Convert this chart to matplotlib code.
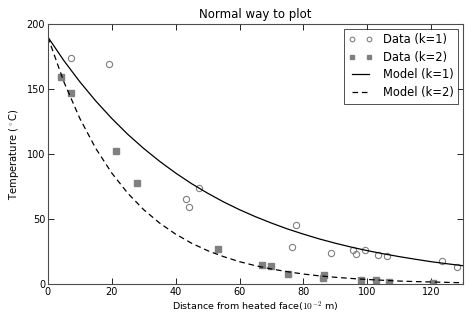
import matplotlib
matplotlib.use('Agg')
import matplotlib.pyplot as plt

x_k1 = [7.1, 19.1, 43.2, 44.2, 47.3, 76.3, 77.8, 88.6, 95.5, 96.6, 99.3, 103.4, 106.1, 123.4, 128.1]
t_k1 = [174.2, 169.6, 65.1, 59.2, 73.6, 28.6, 45.4, 24.0, 26.1, 23.5, 26.3, 22.5, 21.7, 17.9, 12.8]

x_k2 = [4.1, 7.3, 21.4, 27.9, 53.2, 67.0, 69.9, 75.1, 86.1, 86.6, 98.0, 102.8, 106.9, 120.6]
t_k2 = [159.6, 146.9, 102.1, 77.4, 26.6, 14.3, 13.8, 7.4, 4.8, 7.1, 3.3, 3.3, 1.5, 1.0]

# model curves, read every 5 units
x_model = [0, 5, 10, 15, 20, 25, 30, 35, 40, 45, 50, 55, 60, 65,
           70, 75, 80, 85, 90, 95, 100, 105, 110, 115, 120, 125, 130]
model_k1 = [190.0, 171.9, 155.6, 140.8, 127.4, 115.2, 104.3, 94.4, 85.4, 77.2, 69.9, 63.2, 57.2, 51.8,
            46.9, 42.4, 38.4, 34.7, 31.4, 28.4, 25.7, 23.3, 21.1, 19.1, 17.2, 15.6, 14.1]
model_k2 = [190.0, 155.6, 127.4, 104.3, 85.4, 69.9, 57.2, 46.9, 38.4, 31.4, 25.7, 21.1, 17.2, 14.1,
            11.6, 9.5, 7.7, 6.3, 5.2, 4.3, 3.5, 2.9, 2.3, 1.9, 1.6, 1.3, 1.0]

plt.rcParams['mathtext.fontset'] = 'cm'

fig = plt.figure(figsize=(4.74, 3.25), dpi=100)
ax = fig.add_axes([0.101, 0.126, 0.876, 0.800])

ax.plot(x_k1, t_k1, 'o', mfc='none', mec='0.5', ms=4.5, mew=0.8, label='Data (k=1)')
ax.plot(x_k2, t_k2, 's', color='0.5', mec='0.5', ms=4.2, label='Data (k=2)')
ax.plot(x_model, model_k1, 'k-', lw=0.9, label='Model (k=1)')
ax.plot(x_model, model_k2, 'k--', lw=0.9, dashes=(4.5, 3), label='Model (k=2)')

ax.set_xlim(0, 130)
ax.set_ylim(0, 200)
ax.set_xticks([0, 20, 40, 60, 80, 100, 120])
ax.set_yticks([0, 50, 100, 150, 200])
ax.tick_params(direction='in', top=True, right=True, labelsize=7, length=4, width=0.6, pad=2)
for s in ax.spines.values():
    s.set_linewidth(0.8)
    s.set_color('0.3')

ax.set_title('Normal way to plot', fontsize=8.5, pad=4)
ax.set_xlabel('Distance from heated face($10^{-2}$ m)', fontsize=6.8, labelpad=2)
ax.set_ylabel('Temperature ($^\\circ$C)', fontsize=7.2, labelpad=4)

leg = ax.legend(loc='upper right', numpoints=2, fontsize=8.3, fancybox=False,
                frameon=True, handlelength=2.0, borderpad=0.4, labelspacing=0.4,
                handletextpad=0.95, borderaxespad=0.4, markerscale=0.75)
leg.get_frame().set_edgecolor('black')
leg.get_frame().set_linewidth(0.6)

fig.savefig('out.png', dpi=100, facecolor='white')
